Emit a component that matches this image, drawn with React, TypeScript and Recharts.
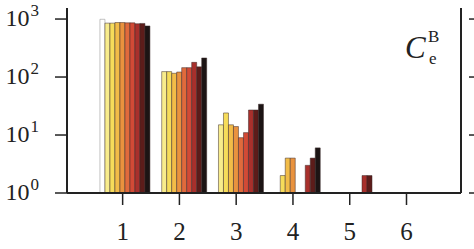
import React from "react";
import { BarChart, Bar, XAxis, YAxis } from "recharts";

const categories = [1, 2, 3, 4, 5, 6];
const s0 = [990, null, null, null, null, null];
const s1 = [850, 124, 15, null, null, null];
const s2 = [850, 124, 24, 2, null, null];
const s3 = [870, 116, 15, 4, null, null];
const s4 = [870, 122, 14, 4, null, null];
const s5 = [860, 145, 9, null, null, null];
const s6 = [860, 145, 11, null, null, null];
const s7 = [830, 179, 27, 3, 2, null];
const s8 = [840, 150, 27, 4, 2, null];
const s9 = [760, 213, 34, 6, null, null];
const series = [s0, s1, s2, s3, s4, s5, s6, s7, s8, s9];
const colors = [
  "#ffffff",
  "#f8ec8c",
  "#f6dc5a",
  "#f2bc48",
  "#e9923e",
  "#e06a3c",
  "#d24a36",
  "#a8302c",
  "#5c1c1a",
  "#1c1414",
];
const yTicks = [1, 10, 100, 1000];

const data = categories.map((c, i) => {
  const row: Record<string, number | null> = { x: c };
  series.forEach((s, k) => {
    row["s" + k] = s[i];
  });
  return row;
});

const FONT = "Liberation Serif";

const YTick = (props: any) => {
  const { x, y, payload } = props;
  const exp = Math.round(Math.log10(payload.value));
  return (
    <text x={x} y={y + 7} textAnchor="end" fontFamily={FONT} fontSize={24} fill="#222">
      <tspan>10</tspan>
      <tspan dx={1} dy={-10} fontSize={17}>{exp}</tspan>
    </text>
  );
};

const XTick = (props: any) => {
  const { x, y, payload } = props;
  return (
    <text x={x} y={y + 33} textAnchor="middle" fontFamily={FONT} fontSize={25} fill="#222">
      {payload.value}
    </text>
  );
};

const RightTick = (props: any) => {
  const { x, y } = props;
  return <line x1={x + 8} x2={x + 14} y1={y} y2={y} stroke="#222" strokeWidth={1.5} />;
};

export default function App() {
  return (
    <div style={{ position: "absolute", left: 0, top: 0, width: 474, height: 249, background: "#fff" }}>
      <BarChart
        width={474}
        height={249}
        data={data}
        margin={{ top: 8, right: 0, bottom: 0, left: 0 }}
        barCategoryGap="10%"
        barGap={0}
      >
        <XAxis
          xAxisId="bottom"
          dataKey="x"
          type="number"
          domain={[0.02, 6.96]}
          ticks={categories}
          allowDataOverflow
          height={56}
          tickSize={12}
          tickMargin={2}
          tick={<XTick />}
          axisLine={{ stroke: "#222", strokeWidth: 2 }}
          tickLine={{ stroke: "#222", strokeWidth: 1.5 }}
        />
        <XAxis
          xAxisId="top"
          dataKey="x"
          type="number"
          orientation="top"
          domain={[0.02, 6.96]}
          allowDataOverflow
          height={0}
          tick={false}
          tickLine={false}
          axisLine={{ stroke: "#222", strokeWidth: 2 }}
        />
        <YAxis
          yAxisId="left"
          scale="log"
          domain={[1, 1550]}
          ticks={yTicks}
          allowDataOverflow
          width={67}
          tickSize={12}
          tickMargin={16}
          tick={<YTick />}
          axisLine={{ stroke: "#222", strokeWidth: 2 }}
          tickLine={{ stroke: "#222", strokeWidth: 1.5 }}
        />
        <YAxis
          yAxisId="right"
          orientation="right"
          scale="log"
          domain={[1, 1550]}
          ticks={yTicks}
          allowDataOverflow
          width={13}
          tickSize={0}
          tickMargin={0}
          tick={<RightTick />}
          tickLine={false}
          axisLine={{ stroke: "#222", strokeWidth: 2 }}
        />
        {series.map((_, k) => (
          <Bar
            key={k}
            dataKey={"s" + k}
            xAxisId="bottom"
            yAxisId="left"
            fill={colors[k]}
            stroke={k === 0 ? "#888" : "#3a2a2a"}
            strokeWidth={0.5}
            isAnimationActive={false}
          />
        ))}
      </BarChart>
      <svg
        width={474}
        height={249}
        style={{ position: "absolute", left: 0, top: 0, pointerEvents: "none" }}
      >
        <text x={405} y={58} fontFamily={FONT} fontStyle="italic" fontSize={31} fill="#222">
          C
        </text>
        <text x={428} y={42} fontFamily={FONT} fontSize={17} fill="#222">
          B
        </text>
        <text x={429} y={64} fontFamily={FONT} fontSize={17} fill="#222">
          e
        </text>
      </svg>
    </div>
  );
}
